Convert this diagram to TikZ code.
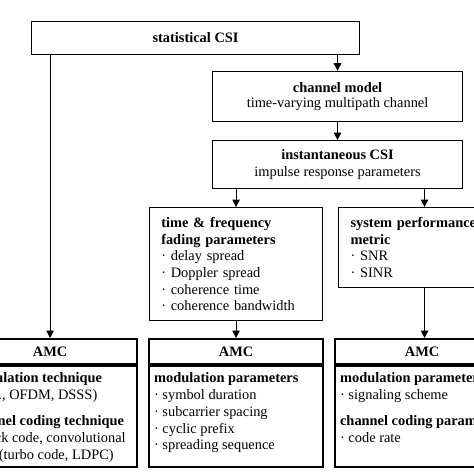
\documentclass[tikz,border=0pt]{standalone}
\usepackage{fontspec}
\setmainfont{Liberation Serif}
\usetikzlibrary{arrows.meta,positioning}

\newcommand{\amctext}[1]{\parbox[c][91pt][t]{164pt}{\strut #1}}

\begin{document}
\begin{tikzpicture}[x=1pt,y=-1pt,
	every node/.style={font=\fontsize{14.4}{16.7}\selectfont},
	box/.style={draw,line width=1.1pt,inner sep=0pt,anchor=north west},
	amchead/.style={draw,line width=2.2pt,inner sep=0pt,anchor=north west,minimum width=174pt,minimum height=25pt,font=\fontsize{14.4}{16.7}\selectfont\bfseries},
	amcbody/.style={draw,line width=2.2pt,inner xsep=5pt,inner ysep=0pt,minimum width=174pt,minimum height=101pt},
	arr/.style={-{Triangle[length=7.5pt,width=7.5pt]},line width=1.1pt}]
\useasboundingbox (0,0) rectangle (474,474);
\clip (0,0) rectangle (474,474);

% CSI chain
\node[box,minimum width=328pt,minimum height=32.5pt] (stat) at (31,21) {\textbf{statistical CSI}};
\node[box,minimum width=250pt,minimum height=50pt,align=center] (chan) at (212,70.7) {\textbf{channel model}\\[-1.5pt]time-varying multipath channel};
\node[box,minimum width=250pt,minimum height=47.7pt,align=center] (inst) at (212,140) {\textbf{instantaneous CSI}\\impulse response parameters};

% fading parameters and performance metric
\node[box,text width=149.6pt,inner xsep=11.7pt,minimum height=113pt,align=left] (fade) at (149,207) {\textbf{time \& frequency}\\\textbf{fading parameters}\\· delay spread\\· Doppler spread\\· coherence time\\· coherence bandwidth};
\node[box,text width=148pt,inner xsep=12pt,minimum height=80pt,align=left] (perf) at (338,207) {\textbf{system performance}\\\textbf{metric}\\· SNR\\· SINR};

% AMC blocks
\foreach \i/\x in {1/-38,2/148,3/334}{
	\node[amchead] (head\i) at (\x,338) {AMC};
}
\node[amcbody,below=0pt of head1] (body1) {\amctext{\textbf{modulation technique}\\· (e.g., OFDM, DSSS)\\[9.3pt]\textbf{channel coding technique}\\· block code, convolutional\\code (turbo code, LDPC)}};
\node[amcbody,below=0pt of head2] (body2) {\amctext{\textbf{modulation parameters}\\· symbol duration\\· subcarrier spacing\\· cyclic prefix\\· spreading sequence}};
\node[amcbody,below=0pt of head3] (body3) {\amctext{\mbox{\textbf{modulation parameters}}\\· signaling scheme\\[9.3pt]\mbox{\textbf{channel coding parameters}}\\· code rate}};

% connectors
\draw[arr] (stat.south -| chan.north) -- (chan.north);
\draw[arr] (chan.south) -- (inst.north);
\draw[arr] (inst.south -| fade.north) -- (fade.north);
\draw[arr] (inst.south -| perf.north) -- (perf.north);
\draw[arr] (stat.south -| head1.north) -- (head1.north);
\draw[arr] (fade.south) -- (fade.south |- head2.north);
\draw[arr] (perf.south) -- (perf.south |- head3.north);

\end{tikzpicture}
\end{document}
